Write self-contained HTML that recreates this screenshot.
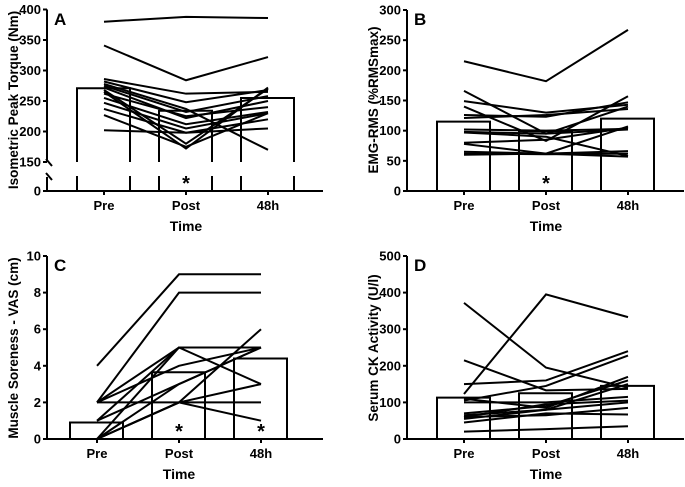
<!DOCTYPE html>
<html><head><meta charset="utf-8"><style>
body{margin:0;background:#fff}
svg text{font-family:"Liberation Sans",Arial,sans-serif;font-weight:bold;fill:#000}
</style></head><body>
<svg id="s" width="685" height="482" viewBox="0 0 685 482"></svg>
<script>
const categories=["Pre","Post","48h"];
const meansA=[271,234,255];
const linesA=[[380,388,386],[341,284,322],[286,262,265],[282,248,268],[278,237,170],[275,232,258],[272,222,250],[268,180,270],[265,172,272],[262,225,240],[255,212,232],[247,205,230],[237,198,220],[227,175,230],[202,198,205]];
const meansB=[115,99,120];
const linesB=[[215,182,267],[166,95,140],[149,130,143],[140,83,157],[126,123,147],[121,126,136],[102,100,103],[98,95,102],[97,90,58],[80,85,105],[78,62,107],[65,62,66],[62,61,62],[60,62,57]];
const meansC=[0.9,3.65,4.4];
const linesC=[[4,9,9],[2,8,8],[2,5,3],[2,4,5],[2,2,2],[1,5,5],[1,3,5],[0,5,5],[0,2,6],[0,2,3],[0,2,1],[0,3,5]];
const meansD=[113,125,145];
const linesD=[[372,195,140],[215,133,137],[150,160,240],[123,395,333],[105,145,228],[110,85,170],[100,100,115],[70,90,160],[65,80,150],[60,95,105],[55,80,100],[60,65,85],[45,70,67],[20,27,35]];
const ticksA=[0,150,200,250,300,350,400];
const ticksB=[0,50,100,150,200,250,300];
const ticksC=[0,2,4,6,8,10];
const ticksD=[0,100,200,300,400,500];
const NS="http://www.w3.org/2000/svg";
const svg=document.getElementById('s');
function el(t,a,p){const e=document.createElementNS(NS,t);for(const k in a)e.setAttribute(k,a[k]);(p||svg).appendChild(e);return e;}
function panel(o){
  const g=el('g',{});
  
  
  const y=o.y, x=i=>o.cx0+i*82;
  const st={stroke:'#000','stroke-width':2,fill:'none'};
  const base=o.brk?y(150):o.y0;
  o.means.forEach((m,i)=>{
    const b=el('path',Object.assign({d:`M${x(i)-27},${base} V${y(m)} H${x(i)+26} V${base}`},st),g);
    
    
    if(o.brk){el('path',Object.assign({d:`M${x(i)-27},${o.y0} V176 M${x(i)+26},${o.y0} V176`},st),g);}
  });
  o.lines.forEach(l=>{
    const p=el('polyline',Object.assign({points:l.map((v,i)=>x(i)+','+y(v)).join(' ')},st),g);
    
    
  });
  if(o.brk){
    el('path',Object.assign({d:`M${o.ax},${y(400)} V${y(150)} M${o.ax},177 V${o.y0} H${o.axEnd}`},st),g);
    el('path',{d:`M${o.ax-1},159 L${o.ax+5},166 M${o.ax-1},173 L${o.ax+5},180`,stroke:'#000','stroke-width':2},g);
  } else {
    el('path',Object.assign({d:`M${o.ax},${y(o.ticks[o.ticks.length-1])} V${o.y0} H${o.axEnd}`},st),g);
  }
  o.ticks.forEach(t=>{
    const ty=t===0?o.y0:y(t);
    el('line',{x1:o.ax-4,x2:o.ax,y1:ty,y2:ty,stroke:'#000','stroke-width':2},g);
    const tx=el('text',{x:o.ax-6,y:ty+4.5,'text-anchor':'end','font-size':13},g);tx.textContent=t;
  });
  categories.forEach((c,i)=>{
    el('line',{x1:x(i),x2:x(i),y1:o.y0,y2:o.y0+4,stroke:'#000','stroke-width':2},g);
    const t=el('text',{x:x(i),y:o.y0+19,'text-anchor':'middle','font-size':13},g);t.textContent=c;
    
    
  });
  const xt=el('text',{x:x(1),y:o.y0+40,'text-anchor':'middle','font-size':14},g);xt.textContent='Time';
  
  
  const yt=el('text',{transform:`translate(${o.ylx},${o.ylc}) rotate(-90)`,'text-anchor':'middle','font-size':13.5},g);yt.textContent=o.ylabel;
  
  
  const lt=el('text',{x:o.ax+7,y:o.ltop+15,'font-size':17},g);lt.textContent=o.letter;
  
  
  o.stars.forEach(i=>{const s=el('text',{x:x(i),y:o.y0-1,'text-anchor':'middle','font-size':20},g);s.textContent='*';});
}
panel({name:'panel-a',letter:'A',ax:47,axEnd:323,cx0:104,y0:191,y:v=>162-(v-150)*30.5/50,means:meansA,lines:linesA,ticks:ticksA,brk:true,ylabel:'Isometric Peak Torque (Nm)',ylx:18,ylc:100,ltop:10,stars:[1]});
panel({name:'panel-b',letter:'B',ax:407,axEnd:684,cx0:464,y0:191,y:v=>191-v*181/300,means:meansB,lines:linesB,ticks:ticksB,ylabel:'EMG-RMS (%RMSmax)',ylx:378,ylc:100,ltop:10,stars:[1]});
panel({name:'panel-c',letter:'C',ax:47,axEnd:323,cx0:97,y0:439,y:v=>439-v*18.3,means:meansC,lines:linesC,ticks:ticksC,ylabel:'Muscle Soreness - VAS (cm)',ylx:18,ylc:348,ltop:256,stars:[1,2]});
panel({name:'panel-d',letter:'D',ax:407,axEnd:684,cx0:464,y0:439,y:v=>439-v*183/500,means:meansD,lines:linesD,ticks:ticksD,ylabel:'Serum CK Activity (U/l)',ylx:378,ylc:348,ltop:256,stars:[]});
</script>
</body></html>
